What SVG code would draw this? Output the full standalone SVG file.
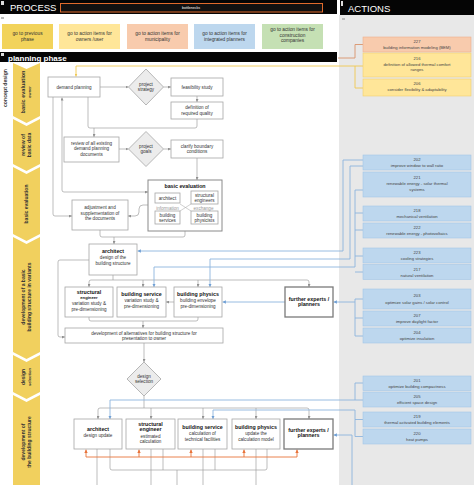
<svg xmlns="http://www.w3.org/2000/svg" width="474" height="485" viewBox="0 0 474 485">
<defs>
<style>
.t{font-family:"Liberation Sans",Arial,sans-serif;font-size:4.6px;fill:#333;text-anchor:middle}
.b{font-weight:bold;font-size:5.3px;fill:#111}
.s{font-size:4.2px}
.box{fill:#fff;stroke:#a6a6a6;stroke-width:0.8}
.fx{fill:#fff;stroke:#7a7a7a;stroke-width:1.3}
.dia{fill:#ececec;stroke:#a6a6a6;stroke-width:0.8}
.ln{fill:none;stroke:#a0a0a0;stroke-width:0.7}
.bl{fill:none;stroke:#8db4de;stroke-width:0.9}
.or{fill:none;stroke:#e8743b;stroke-width:0.9}
.ye{fill:none;stroke:#f0c850;stroke-width:0.9}
.sa{fill:none;stroke:#d9936b;stroke-width:0.9}
.chev{fill:#f1d05e}
.ct{font-family:"Liberation Sans",Arial,sans-serif;font-weight:bold;font-size:5px;fill:#333;text-anchor:middle}
.abl{fill:#bdd7ee;stroke:#a3c5e6;stroke-width:0.6}
.aye{fill:#ffe699;stroke:#f2d06e;stroke-width:0.6}
.asa{fill:#f8cbad;stroke:#eeb08c;stroke-width:0.6}
.at{font-family:"Liberation Sans",Arial,sans-serif;font-size:4.2px;fill:#444;text-anchor:middle}
.btn{font-family:"Liberation Sans",Arial,sans-serif;font-size:4.8px;fill:#333;text-anchor:middle}
</style>
<marker id="ag" viewBox="0 0 6 6" refX="6" refY="3" markerWidth="3" markerHeight="3" orient="auto-start-reverse" markerUnits="userSpaceOnUse"><path d="M0,0L6,3L0,6z" fill="#909090"/></marker>
<marker id="ab" viewBox="0 0 6 6" refX="6" refY="3" markerWidth="3.4" markerHeight="3.4" orient="auto" markerUnits="userSpaceOnUse"><path d="M0,0L6,3L0,6z" fill="#6f9fd4"/></marker>
<marker id="ao" viewBox="0 0 6 6" refX="6" refY="3" markerWidth="3.4" markerHeight="3.4" orient="auto" markerUnits="userSpaceOnUse"><path d="M0,0L6,3L0,6z" fill="#e8743b"/></marker>
<marker id="ay" viewBox="0 0 6 6" refX="6" refY="3" markerWidth="3" markerHeight="3" orient="auto" markerUnits="userSpaceOnUse"><path d="M0,0L6,3L0,6z" fill="#f0c850"/></marker>
</defs>

<!-- background -->
<rect x="0" y="0" width="474" height="485" fill="#fff"/>
<rect x="339" y="15" width="135" height="470" fill="#e8e8e8"/>

<!-- header -->
<g id="header">
<rect x="0" y="0" width="337" height="14" fill="#050505"/>
<rect x="1" y="1" width="3" height="4" fill="#ddd"/>
<text x="10" y="11" style="font-family:'Liberation Sans',Arial,sans-serif;font-size:9.5px;fill:#fff">PROCESS</text>
<rect x="60.5" y="3.5" width="262" height="8.5" fill="#111" stroke="#e06a2c" stroke-width="1"/>
<text x="191" y="9.3" style="font-family:'Liberation Sans',Arial,sans-serif;font-size:3.6px;fill:#fff;text-anchor:middle">bottlenecks</text>
<rect x="340" y="0" width="134" height="15" fill="#050505"/>
<rect x="341" y="1" width="2" height="5" fill="#ddd"/>
<text x="348" y="11.5" style="font-family:'Liberation Sans',Arial,sans-serif;font-size:9.5px;fill:#fff">ACTIONS</text>
<rect x="1" y="17" width="3" height="2" fill="#bbb"/>
<rect x="342" y="18" width="3" height="2" fill="#bbb"/>
</g>

<g id="buttons">
<rect x="2" y="24" width="51" height="25" fill="#f2d35b"/>
<text class="btn" x="27.5" y="35">go to previous</text><text class="btn" x="27.5" y="40.5">phase</text>
<rect x="59" y="24" width="61" height="25" fill="#ffe699"/>
<text class="btn" x="89.5" y="35">go to action items for</text><text class="btn" x="89.5" y="40.5">owners /user</text>
<rect x="127" y="24" width="61" height="25" fill="#f8cbad"/>
<text class="btn" x="157.5" y="35">go to action items for</text><text class="btn" x="157.5" y="40.5">municipality</text>
<rect x="194" y="24" width="61" height="25" fill="#bdd7ee"/>
<text class="btn" x="224.5" y="35">go to action items for</text><text class="btn" x="224.5" y="40.5">integrated planners</text>
<rect x="262" y="24" width="61" height="25" fill="#c5e0b4"/>
<text class="btn" x="292.5" y="31">go to action items for</text><text class="btn" x="292.5" y="36.5">construction</text><text class="btn" x="292.5" y="42">companies</text>
</g>

<g id="phasebar">
<rect x="0" y="52" width="337" height="10" fill="#050505"/>
<rect x="1" y="53" width="3" height="3" fill="#ddd"/>
<text x="8" y="60.5" style="font-family:'Liberation Sans',Arial,sans-serif;font-size:8px;font-weight:bold;fill:#fff">planning phase</text>
</g>

<!-- left stages -->
<g id="stages">
<text class="ct" transform="translate(7,88) rotate(-90)" style="font-size:5.2px">concept design</text>
<polygon class="chev" points="13,63 26.5,69 40,63 40,116 26.5,123 13,116"/>
<text class="ct" transform="translate(25,92) rotate(-90)" style="font-size:5.5px">basic evaluation</text>
<text class="ct" transform="translate(31,92) rotate(-90)" style="font-size:4px">owner</text>
<polygon class="chev" points="13,119 26.5,126 40,119 40,164 26.5,171 13,164"/>
<text class="ct" transform="translate(25,145) rotate(-90)">review of</text>
<text class="ct" transform="translate(31,145) rotate(-90)">basic data</text>
<polygon class="chev" points="13,167 26.5,174 40,167 40,234 26.5,241 13,234"/>
<text class="ct" transform="translate(28,204) rotate(-90)">basic evaluation</text>
<polygon class="chev" points="13,237 26.5,244 40,237 40,352 26.5,359 13,352"/>
<text class="ct" transform="translate(25,297) rotate(-90)">development of a basic</text>
<text class="ct" transform="translate(31,297) rotate(-90)">building structure in variants</text>
<polygon class="chev" points="13,355 26.5,362 40,355 40,392 26.5,399 13,392"/>
<text class="ct" transform="translate(25,377) rotate(-90)">design</text>
<text class="ct" transform="translate(31,377) rotate(-90)" style="font-size:4.2px">selection</text>
<polygon class="chev" points="13,395 26.5,402 40,395 40,485 13,485"/>
<text class="ct" transform="translate(25,442) rotate(-90)">development of</text>
<text class="ct" transform="translate(31,442) rotate(-90)">the building structure</text>
</g>

<!-- connectors -->
<g id="connectors">
<path class="ye" d="M355,66 H76 V76.5" marker-end="url(#ay)"/>
<path class="ye" d="M355,66 H363 M355,66 V88 H363"/>
<path class="sa" d="M338,58 H355 V44.5 H363"/>

<path class="ln" d="M100,87 H128.5" marker-end="url(#ag)"/>
<path class="ln" d="M163.5,87 H171" marker-end="url(#ag)"/>
<path class="ln" d="M197,96 V102" marker-end="url(#ag)"/>
<path class="ln" d="M88,97 V126 Q88,128 90,128 H195 Q197,128 197,126 V119"/>
<path class="ln" d="M94,128 V137" marker-end="url(#ag)"/>
<path class="ln" d="M119,149 H128.5" marker-end="url(#ag)"/>
<path class="ln" d="M163.5,149 H171" marker-end="url(#ag)"/>
<path class="ln" d="M197,158 V180" marker-end="url(#ag)"/>
<path class="ln" d="M62,97.5 V190 Q62,192 64,192 H148" marker-start="url(#ag)" marker-end="url(#ag)"/>
<path class="ln" d="M53,97 V214 Q53,216 55,216 H72" marker-end="url(#ag)"/>
<path class="ln" d="M148,205 H143 Q139,205 139,209 V212 Q139,216 135,216 H128" marker-end="url(#ag)"/>
<path class="ln" d="M100,230 V235 Q100,237 102,237 H183 Q185,237 185,235 V231"/>
<path class="ln" d="M114,237 V244" marker-end="url(#ag)"/>
<path class="ln" d="M113,275 V280"/>
<path class="ln" d="M89,287 V282 Q89,280 91,280 H307 Q309,280 309,282 V287" marker-start="url(#ag)" marker-end="url(#ag)"/>
<path class="ln" d="M143,280 V287" marker-end="url(#ag)"/>
<path class="ln" d="M198,280 V287" marker-end="url(#ag)"/>
<path class="ln" d="M174,302 H166" marker-end="url(#ag)"/>
<path class="ln" d="M89,317 V319 Q89,321 91,321 H196 Q198,321 198,319 V317"/>
<path class="ln" d="M143,321 V328" marker-end="url(#ag)"/>
<path class="ln" d="M89,260 H60 Q58,260 58,262 V335 Q58,337 60,337 H65" marker-end="url(#ag)"/>
<path class="ln" d="M144,343 V362" marker-end="url(#ag)"/>
<path class="ln" d="M144,396 V408"/>
<path class="ln" d="M98,419 V410 Q98,408 100,408 H307 Q309,408 309,410 V419" marker-start="url(#ag)" marker-end="url(#ag)"/>
<path class="ln" d="M151,408 V419" marker-end="url(#ag)"/>
<path class="ln" d="M203,408 V419" marker-end="url(#ag)"/>
<path class="ln" d="M256,408 V419" marker-end="url(#ag)"/>
<path class="ln" d="M97,449 V485 M151,449 V485 M203,449 V485 M256,449 V485"/>
<path class="ln" d="M110,449 V468 Q110,470 112,470 H265 Q267,470 267,468 V449 M163,449 V470 M215,449 V470 M177,470 V485"/>

<path class="or" d="M86,457 H297"/>
<path class="or" d="M86,457 V449.5" marker-end="url(#ao)"/>
<path class="or" d="M139,457 V449.5" marker-end="url(#ao)"/>
<path class="or" d="M191,457 V449.5" marker-end="url(#ao)"/>
<path class="or" d="M244,457 V449.5" marker-end="url(#ao)"/>
<path class="or" d="M297,457 V449.5" marker-end="url(#ao)"/>

<path class="bl" d="M343,160 V251 H137.5" marker-end="url(#ab)"/>
<path class="bl" d="M343,160 H363"/>
<path class="bl" d="M350,166 V259 H210 V287" marker-end="url(#ab)"/>
<path class="bl" d="M350,166 H363"/>
<path class="bl" d="M355,190 V267 H154 V287" marker-end="url(#ab)"/>
<path class="bl" d="M355,190 H363 M355,213 H363 M355,230 H363 M355,256 H363 M355,272 H363"/>
<path class="bl" d="M355,302 H333.5" marker-end="url(#ab)"/>
<path class="bl" d="M285,302 H222.5" marker-end="url(#ab)"/>
<path class="bl" d="M363,299 H355 V336 H363 M355,318 H363"/>
<path class="bl" d="M363,383 H355 V400 H110 V419" marker-end="url(#ab)"/>
<path class="bl" d="M355,400 H363"/>
<path class="bl" d="M363,419.5 H355 V410 H213 V419" marker-end="url(#ab)"/>
<path class="bl" d="M355,419.5 V436.5 H363"/>
<path class="bl" d="M352,485 V435 H333.5" marker-end="url(#ab)"/>
</g>

<!-- nodes -->
<g id="demand-planning"><rect class="box" x="48" y="77" width="52" height="20"/><text class="t" x="74" y="88.5">demand planning</text></g>
<g id="project-strategy"><polygon class="dia" points="146,69 163.5,87 146,105 128.5,87"/><text class="t" x="146" y="85.5">project</text><text class="t" x="146" y="90.5">strategy</text></g>
<g id="feasibility"><rect class="box" x="171" y="78" width="52" height="18"/><text class="t" x="197" y="88.5">feasibility study</text></g>
<g id="required-quality"><rect class="box" x="171" y="102" width="52" height="17"/><text class="t" x="197" y="109">definition of</text><text class="t" x="197" y="114.5">required quality</text></g>
<g id="review"><rect class="box" x="64" y="137" width="55" height="25"/><text class="t" x="91.5" y="144.5">review of all existing</text><text class="t" x="91.5" y="150">demand planning</text><text class="t" x="91.5" y="155.5">documents</text></g>
<g id="project-goals"><polygon class="dia" points="146,131.5 163.5,149 146,166.5 128.5,149"/><text class="t" x="146" y="147.5">project</text><text class="t" x="146" y="152.5">goals</text></g>
<g id="clarify"><rect class="box" x="171" y="140" width="52" height="18"/><text class="t" x="197" y="147.5">clarify boundary</text><text class="t" x="197" y="153">conditions</text></g>
<g id="basic-evaluation">
<rect class="box" x="148" y="180" width="74" height="51" style="stroke:#8a8a8a;stroke-width:1"/>
<text class="t b" x="185" y="188">basic evaluation</text>
<path d="M180,204 L191,211 M180,211 L191,204" stroke="#b0b0b0" stroke-width="0.6"/>
<rect class="box" x="155" y="193" width="25" height="10"/><text class="t" x="167.5" y="199.5">architect</text>
<rect class="box" x="191" y="191" width="27" height="13"/><text class="t" x="204.5" y="196.5">structural</text><text class="t" x="204.5" y="202">engineers</text>
<text class="t" x="167.5" y="209.6" style="fill:#999">information</text><text class="t" x="203.5" y="209.6" style="fill:#999">exchange</text>
<rect class="box" x="155" y="211" width="25" height="13"/><text class="t" x="167.5" y="216.5">building</text><text class="t" x="167.5" y="222">services</text>
<rect class="box" x="191" y="211" width="27" height="13"/><text class="t" x="204.5" y="216.5">building</text><text class="t" x="204.5" y="222">physicists</text>
</g>
<g id="adjustment"><rect class="box" x="72" y="200" width="56" height="30"/><text class="t" x="100" y="209">adjustment and</text><text class="t" x="100" y="214.5">supplementation of</text><text class="t" x="100" y="220">the documents</text></g>
<g id="architect-1"><rect class="box" x="89" y="244" width="48" height="31"/><text class="t b" x="113" y="253">architect</text><text class="t" x="113" y="259">design of the</text><text class="t" x="113" y="264.5">building structure</text></g>
<g id="structural-1"><rect class="box" x="65" y="287" width="48" height="30"/><text class="t b" x="89" y="293.5">structural</text><text class="t b s" x="89" y="299">engineer</text><text class="t" x="89" y="305">variation study &amp;</text><text class="t" x="89" y="310.5">pre-dimensioning</text></g>
<g id="service-1"><rect class="box" x="117" y="287" width="49" height="30"/><text class="t b" x="141.5" y="296">building service</text><text class="t" x="141.5" y="302">variation study &amp;</text><text class="t" x="141.5" y="307.5">pre-dimensioning</text></g>
<g id="physics-1"><rect class="box" x="174" y="287" width="48" height="30"/><text class="t b" x="198" y="296">building physics</text><text class="t" x="198" y="302">building envelope</text><text class="t" x="198" y="307.5">pre-dimensioning</text></g>
<g id="experts-1"><rect class="fx" x="285" y="287" width="48" height="30"/><text class="t b" x="309" y="300.5">further experts /</text><text class="t b" x="309" y="306">planners</text></g>
<g id="alternatives"><rect class="box" x="65" y="328" width="158" height="15"/><text class="t" x="144" y="334.5">development of alternatives for building structure for</text><text class="t" x="144" y="340">presentation to owner</text></g>
<g id="design-selection"><polygon class="dia" points="144,362 161,379 144,396 127,379"/><text class="t" x="144" y="377.5">design</text><text class="t" x="144" y="382.5">selection</text></g>
<g id="architect-2"><rect class="box" x="74" y="419" width="48" height="30"/><text class="t b" x="98" y="431">architect</text><text class="t" x="98" y="437">design update</text></g>
<g id="structural-2"><rect class="box" x="126" y="419" width="49" height="30"/><text class="t b" x="150.5" y="425.5">structural</text><text class="t b" x="150.5" y="431">engineer</text><text class="t" x="150.5" y="437.5">estimated</text><text class="t" x="150.5" y="443">calculation</text></g>
<g id="service-2"><rect class="box" x="178" y="419" width="49" height="30"/><text class="t b" x="202.5" y="429">building service</text><text class="t" x="202.5" y="435">calculation of</text><text class="t" x="202.5" y="440.5">technical facilities</text></g>
<g id="physics-2"><rect class="box" x="232" y="419" width="48" height="30"/><text class="t b" x="256" y="429">building physics</text><text class="t" x="256" y="435">update the</text><text class="t" x="256" y="440.5">calculation model</text></g>
<g id="experts-2"><rect class="fx" x="284" y="419" width="49" height="30"/><text class="t b" x="308.5" y="431.5">further experts /</text><text class="t b" x="308.5" y="437">planners</text></g>

<!-- actions -->
<g id="a227"><rect class="asa" x="363" y="37" width="108" height="15"/><text class="at" x="417" y="43">227</text><text class="at" x="417" y="49">building information modeling (BEM)</text></g>
<g id="a216"><rect class="aye" x="363" y="53" width="108" height="24"/><text class="at" x="417" y="59.5">216</text><text class="at" x="417" y="65.5">definition of allowed thermal comfort</text><text class="at" x="417" y="71">ranges</text></g>
<g id="a206"><rect class="aye" x="363" y="79" width="108" height="17"/><text class="at" x="417" y="85">206</text><text class="at" x="417" y="91">consider flexibility &amp; adaptability</text></g>
<g id="a202"><rect class="abl" x="363" y="155" width="108" height="15"/><text class="at" x="417" y="161">202</text><text class="at" x="417" y="167">improve window to wall ratio</text></g>
<g id="a221"><rect class="abl" x="363" y="172" width="108" height="25"/><text class="at" x="417" y="179">221</text><text class="at" x="417" y="185">renewable energy - solar thermal</text><text class="at" x="417" y="190.5">systems</text></g>
<g id="a218"><rect class="abl" x="363" y="206" width="108" height="15"/><text class="at" x="417" y="212">218</text><text class="at" x="417" y="218">mechanical  ventilation</text></g>
<g id="a222"><rect class="abl" x="363" y="223" width="108" height="15"/><text class="at" x="417" y="229">222</text><text class="at" x="417" y="235">renewable energy - photovoltaics</text></g>
<g id="a223"><rect class="abl" x="363" y="248" width="108" height="15"/><text class="at" x="417" y="254">223</text><text class="at" x="417" y="260">cooling strategies</text></g>
<g id="a217"><rect class="abl" x="363" y="264.5" width="108" height="15"/><text class="at" x="417" y="270.5">217</text><text class="at" x="417" y="276.5">natural ventilation</text></g>
<g id="a203"><rect class="abl" x="363" y="289" width="108" height="20"/><text class="at" x="417" y="297">203</text><text class="at" x="417" y="304">optimize solar gains / solar control</text></g>
<g id="a207"><rect class="abl" x="363" y="311" width="108" height="15"/><text class="at" x="417" y="317">207</text><text class="at" x="417" y="323">improve daylight factor</text></g>
<g id="a204"><rect class="abl" x="363" y="328" width="108" height="15"/><text class="at" x="417" y="334">204</text><text class="at" x="417" y="340">optimize insulation</text></g>
<g id="a201"><rect class="abl" x="363" y="376" width="108" height="14.5"/><text class="at" x="417" y="382">201</text><text class="at" x="417" y="388">optimize building compactness</text></g>
<g id="a205"><rect class="abl" x="363" y="392" width="108" height="15"/><text class="at" x="417" y="398">205</text><text class="at" x="417" y="404">efficient space design</text></g>
<g id="a219"><rect class="abl" x="363" y="412" width="108" height="15"/><text class="at" x="417" y="418">219</text><text class="at" x="417" y="424">thermal activated building elements</text></g>
<g id="a220"><rect class="abl" x="363" y="429" width="108" height="15"/><text class="at" x="417" y="435">220</text><text class="at" x="417" y="441">heat pumps</text></g>
</svg>
